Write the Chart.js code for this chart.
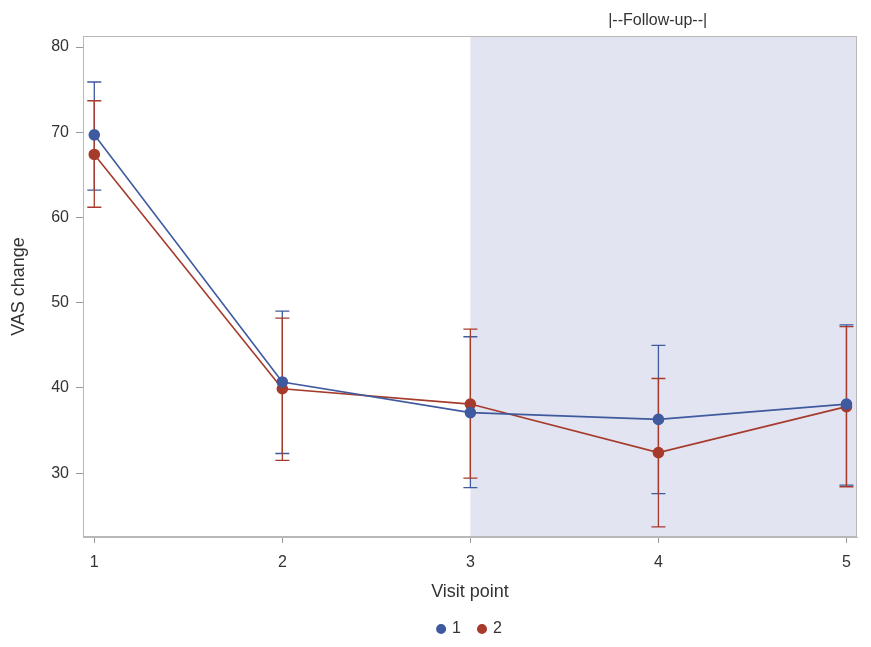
<!DOCTYPE html>
<html>
<head>
<meta charset="utf-8">
<script src="https://cdn.jsdelivr.net/npm/chart.js@4"></script>
<style>
  html, body { margin: 0; padding: 0; background: #fff; }
  #wrap { width: 871px; height: 647px; }
</style>
</head>
<body>
<div id="wrap"><canvas id="myChart"></canvas></div>
<script>
// visit points
const visits = [1, 2, 3, 4, 5];

// group 1 (blue)
const mean1 = [69.7, 40.7, 37.1, 36.3, 38.1];
const low1  = [63.2, 32.3, 28.3, 27.6, 28.6];
const high1 = [75.9, 49.0, 46.0, 45.0, 47.4];

// group 2 (red)
const mean2 = [67.4, 39.9, 38.1, 32.4, 37.8];
const low2  = [61.2, 31.5, 29.4, 23.7, 28.4];
const high2 = [73.7, 48.2, 46.9, 41.1, 47.2];

const yTicks = [30, 40, 50, 60, 70, 80];
const followStart = 3;
const followLabel = "|--Follow-up--|";

const blue = "#3f5a9e";
const red = "#a63b2c";
const font = "'Liberation Sans', Arial, sans-serif";

function pts(ys) {
    return visits.map((v, i) => ({x: v, y: ys[i]}));
}

// shaded follow-up area + frame + label
const shadePlugin = {
    id: 'shade',
    beforeDatasetsDraw(chart) {
        const {ctx, chartArea: a, scales: {x}} = chart;
        const x0 = x.getPixelForValue(followStart);
        ctx.save();
        ctx.fillStyle = "#e2e4f1";
        ctx.fillRect(x0, a.top, a.right - x0, a.bottom - a.top);
        ctx.restore();
    },
    afterDraw(chart) {
        const {ctx, chartArea: a, scales: {x}} = chart;
        ctx.save();
        ctx.strokeStyle = "#b8b8b8";
        ctx.lineWidth = 1;
        ctx.strokeRect(a.left + 0.5, a.top + 0.5, a.right - a.left - 1, a.bottom - a.top - 1);
        const x0 = x.getPixelForValue(followStart);
        ctx.fillStyle = "#333";
        ctx.font = "16px " + font;
        ctx.textAlign = "center";
        ctx.textBaseline = "middle";
        ctx.fillText(followLabel, (x0 + a.right) / 2 - 6, 21);
        ctx.restore();
    }
};

// error bars with caps
const errorPlugin = {
    id: 'errbars',
    beforeDatasetsDraw(chart) {
        const {ctx, scales: {x, y}} = chart;
        const groups = [[low1, high1, blue], [low2, high2, red]];
        ctx.save();
        ctx.lineWidth = 1.3;
        groups.forEach(([lo, hi, col]) => {
            ctx.strokeStyle = col;
            visits.forEach((v, i) => {
                const px = x.getPixelForValue(v);
                const y1 = y.getPixelForValue(lo[i]);
                const y2 = y.getPixelForValue(hi[i]);
                ctx.beginPath();
                ctx.moveTo(px, y1); ctx.lineTo(px, y2);
                ctx.moveTo(px - 7, y1); ctx.lineTo(px + 7, y1);
                ctx.moveTo(px - 7, y2); ctx.lineTo(px + 7, y2);
                ctx.stroke();
            });
        });
        ctx.restore();
    }
};

new Chart(document.getElementById("myChart").getContext("2d"), {
    type: 'line',
    data: {
        datasets: [
            {
                label: "1",
                data: pts(mean1),
                borderColor: blue,
                backgroundColor: blue,
                borderWidth: 1.6,
                pointRadius: 5,
                pointHoverRadius: 5
            },
            {
                label: "2",
                data: pts(mean2),
                borderColor: red,
                backgroundColor: red,
                borderWidth: 1.6,
                pointRadius: 5,
                pointHoverRadius: 5
            }
        ]
    },
    plugins: [shadePlugin, errorPlugin],
    options: {
        responsive: true,
        maintainAspectRatio: false,
        animation: false,
        layout: {padding: {top: 36, right: 14, left: 0, bottom: 0}},
        plugins: {
            tooltip: {enabled: false},
            legend: {
                position: 'bottom',
                fullSize: false,
                labels: {
                    usePointStyle: true,
                    pointStyle: 'circle',
                    boxWidth: 6,
                    boxHeight: 6,
                    padding: 18,
                    color: "#333",
                    font: {family: font, size: 16}
                }
            }
        },
        scales: {
            x: {
                type: 'linear',
                min: 0.94,
                max: 5.056,
                afterBuildTicks(scale) {
                    scale.ticks = visits.map(v => ({value: v}));
                },
                afterFit(scale) { scale.height = 66; },
                grid: {drawOnChartArea: false, drawTicks: true, tickLength: 6, color: "#999"},
                border: {display: true, color: "#b8b8b8"},
                ticks: {color: "#333", font: {family: font, size: 16}, padding: 10},
                title: {display: true, text: "Visit point", color: "#333",
                        font: {family: font, size: 18}, padding: {top: 4, bottom: 0}}
            },
            y: {
                min: 22.5,
                max: 81.3,
                afterBuildTicks(scale) {
                    scale.ticks = yTicks.map(v => ({value: v}));
                },
                afterFit(scale) { scale.width = 83; },
                grid: {drawOnChartArea: false, drawTicks: true, tickLength: 7, color: "#999"},
                border: {display: true, color: "#b8b8b8"},
                ticks: {color: "#333", font: {family: font, size: 16}, padding: 7},
                title: {display: true, text: "VAS change", color: "#333",
                        font: {family: font, size: 18}, padding: {top: 8, bottom: 4}}
            }
        }
    }
});
</script>
</body>
</html>
